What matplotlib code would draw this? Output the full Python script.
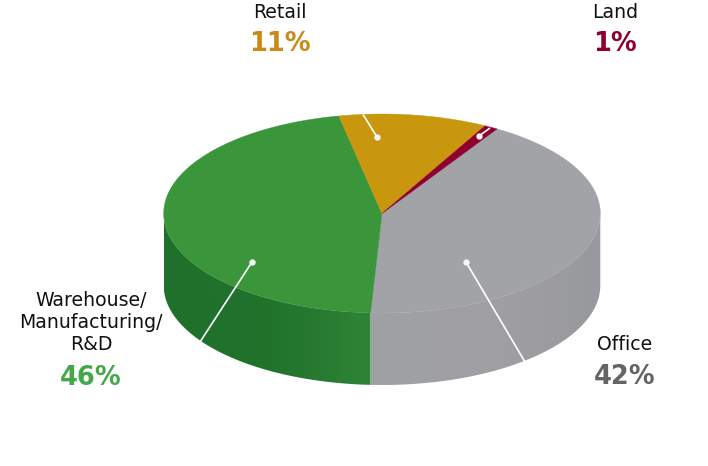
import numpy as np
import matplotlib
matplotlib.use("Agg")
import matplotlib.pyplot as plt
from matplotlib.patches import Polygon
from matplotlib.colors import LinearSegmentedColormap

# data
categories = ["Office", "Warehouse/\nManufacturing/\nR&D", "Retail", "Land"]
values = [42, 46, 11, 1]
pct_labels = ["42%", "46%", "11%", "1%"]

# style
top_colors = ["#a2a3a6", "#3b953b", "#c9970d", "#90002f"]
side_stops = [
    [(0, "#a0a1a4"), (0.6, "#9f9fa3"), (1, "#98999c")],
    [(0, "#1f702b"), (0.45, "#20722b"), (0.75, "#277a30"), (1, "#2f8537")],
    None,
    None,
]
text_colors = ["#636466", "#46a74a", "#c98a16", "#90002f"]
start_angle = 58.2
cx, cy, rx, ry, depth = 382, 213.5, 218.3, 99.5, 72

fig = plt.figure(figsize=(7.08, 4.66), dpi=100, facecolor="white")
ax = fig.add_axes([0, 0, 1, 1])


def pt(a):
    a = np.radians(a)
    return cx + rx * np.cos(a), cy - ry * np.sin(a)


edges = []
angle = start_angle
for v in values:
    edges.append((angle, angle - v * 3.6))
    angle -= v * 3.6

# side wall: a horizontal gradient clipped to each visible wedge wall
for i, (a0, a1) in enumerate(edges):
    if side_stops[i] is None:
        continue
    hi, lo = min(a0, 0), max(a1, -180)
    aa = np.linspace(hi, lo, 200)
    px, py = pt(aa)
    poly = Polygon(np.column_stack([np.r_[px, px[::-1]], np.r_[py, py[::-1] + depth]]),
                   closed=True, fc="none", ec="none", transform=ax.transData)
    ax.add_patch(poly)
    cmap = LinearSegmentedColormap.from_list(f"s{i}", side_stops[i])
    grad = np.linspace(0, 1, 256)[None, :]
    im = ax.imshow(grad, cmap=cmap, extent=(px.min(), px.max(), py.max() + depth, py.min()),
                   aspect="auto", zorder=1, interpolation="bilinear")
    im.set_clip_path(poly)

# top face
for i, (a0, a1) in enumerate(edges):
    aa = np.linspace(a0, a1, 200)
    px, py = pt(aa)
    ax.add_patch(Polygon(np.column_stack([np.r_[cx, px], np.r_[cy, py]]),
                         closed=True, fc=top_colors[i], ec=top_colors[i], lw=0.3, zorder=2))

ax.set_xlim(0, 708)
ax.set_ylim(466, 0)
ax.axis("off")

# leaders
leaders = [((466, 262), (525, 362)), ((252, 262), (200, 342)),
           ((377, 137), (363, 114.5)), ((479, 136), (490, 128))]
for (a, b) in leaders:
    ax.plot([a[0], b[0]], [a[1], b[1]], color="white", lw=1.2, zorder=3, solid_capstyle="butt")
    ax.plot(*a, "o", ms=4.6, color="#f4f4f4", mec="none", zorder=4)

# labels
fam = ["DejaVu Sans"]
name_pos = [(625, 345), (91, 323), (280, 12), (615, 12)]
pct_pos = [(625, 377), (91, 378), (280, 44), (615, 44)]
for i in range(4):
    ax.text(*name_pos[i], categories[i], ha="center", va="center", fontsize=13.6,
            color="#111111", family=fam, linespacing=1.2, zorder=5)
    ax.text(*pct_pos[i], pct_labels[i], ha="center", va="center", fontsize=18.5,
            color=text_colors[i], family=fam, fontweight="bold", zorder=5)

fig.savefig("out.png", dpi=100, facecolor="white")
